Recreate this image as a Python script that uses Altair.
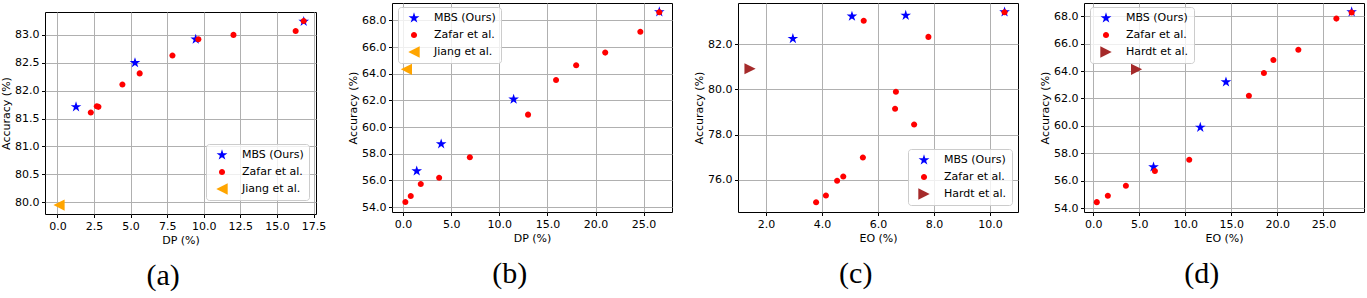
import altair as alt
import pandas as pd

# ---------------- data ----------------
MBS = "MBS (Ours)"
ZAFAR = "Zafar et al."
JIANG = "Jiang et al."
HARDT = "Hardt et al."

# (a) DP vs accuracy
a_mbs_x = [1.27, 5.30, 9.45, 16.83]
a_mbs_y = [81.71, 82.50, 82.92, 83.24]
a_zafar_x = [2.28, 2.69, 2.80, 4.44, 5.62, 7.86, 9.63, 12.03, 16.28, 16.83]
a_zafar_y = [81.61, 81.72, 81.71, 82.11, 82.31, 82.63, 82.92, 83.00, 83.07, 83.25]
a_jiang_x = [0.11]
a_jiang_y = [79.95]

# (b) DP vs accuracy
b_mbs_x = [1.42, 3.96, 11.49, 26.63]
b_mbs_y = [56.70, 58.73, 62.08, 68.63]
b_zafar_x = [0.24, 0.80, 1.84, 3.75, 6.94, 12.99, 15.90, 17.99, 21.01, 24.66, 26.63]
b_zafar_y = [54.38, 54.83, 55.73, 56.20, 57.73, 60.93, 63.53, 64.63, 65.58, 67.15, 68.60]
b_jiang_x = [0.35]
b_jiang_y = [64.33]

# (c) EO vs accuracy
c_mbs_x = [2.96, 5.07, 6.99, 10.52]
c_mbs_y = [82.24, 83.23, 83.27, 83.42]
c_zafar_x = [3.79, 4.14, 4.54, 4.76, 5.46, 6.61, 6.64, 7.29, 7.80, 5.49, 10.52]
c_zafar_y = [75.00, 75.30, 75.95, 76.14, 76.98, 79.14, 79.89, 78.44, 82.32, 83.03, 83.41]
c_hardt_x = [1.43]
c_hardt_y = [80.91]

# (d) EO vs accuracy
d_mbs_x = [6.55, 11.63, 14.42, 28.07]
d_mbs_y = [56.99, 59.89, 63.20, 68.32]
d_zafar_x = [0.39, 1.59, 3.55, 6.70, 10.43, 16.91, 18.54, 19.57, 22.28, 26.41, 28.07]
d_zafar_y = [54.43, 54.89, 55.62, 56.70, 57.53, 62.20, 63.86, 64.81, 65.56, 67.83, 68.27]
d_hardt_x = [4.71]
d_hardt_y = [64.13]

# tick values
a_xticks = [0.0, 2.5, 5.0, 7.5, 10.0, 12.5, 15.0, 17.5]
a_yticks = [80.0, 80.5, 81.0, 81.5, 82.0, 82.5, 83.0]
b_xticks = [0.0, 5.0, 10.0, 15.0, 20.0, 25.0]
b_yticks = [54.0, 56.0, 58.0, 60.0, 62.0, 64.0, 66.0, 68.0]
c_xticks = [2.0, 4.0, 6.0, 8.0, 10.0]
c_yticks = [76.0, 78.0, 80.0, 82.0]
d_xticks = [0.0, 5.0, 10.0, 15.0, 20.0, 25.0]
d_yticks = [54.0, 56.0, 58.0, 60.0, 62.0, 64.0, 66.0, 68.0]

# ---------------- styling ----------------
STAR = ("M0,-1L0.2245,-0.309L0.951,-0.309L0.363,0.118L0.588,0.809L0,0.382"
        "L-0.588,0.809L-0.363,0.118L-0.951,-0.309L-0.2245,-0.309Z")
DOT = "M0.54,0A0.54,0.54 0 1,1 -0.54,0A0.54,0.54 0 1,1 0.54,0Z"
TRI_L = "M-1,0L1,-1L1,1Z"
TRI_R = "M1,0L-1,-1L-1,1Z"
FONT = "DejaVu Sans"


def build_frame(mx, my, zx, zy, bx, by, bname):
    return pd.DataFrame({
        "x": list(mx) + list(zx) + list(bx),
        "y": list(my) + list(zy) + list(by),
        "s": [MBS] * len(mx) + [ZAFAR] * len(zx) + [bname] * len(bx),
    })


def panel(df, bname, bshape, bcolor, xdom, ydom, xticks, yticks, xtitle,
          legx, legy, width, height, caption):
    dom = [MBS, ZAFAR, bname]
    legend = alt.Legend(
        orient="none", legendX=legx, legendY=legy,
        symbolSize=130, symbolStrokeWidth=0, symbolOffset=5,
        labelOffset=14, rowPadding=6, padding=5,
        labelFont=FONT, labelFontSize=11, labelColor="black",
        fillColor="rgba(255,255,255,0.8)", strokeColor="#cccccc",
        cornerRadius=3,
    )
    return alt.Chart(df).mark_point(filled=True, size=125, opacity=1, strokeWidth=0).encode(
        x=alt.X("x:Q", title=xtitle,
                scale=alt.Scale(domain=xdom, nice=False, zero=False),
                axis=alt.Axis(values=xticks, format=".1f", labelFlush=False,
                              labelOverlap=False)),
        y=alt.Y("y:Q", title="Accuracy (%)",
                scale=alt.Scale(domain=ydom, nice=False, zero=False),
                axis=alt.Axis(values=yticks, format=".1f", labelOverlap=False)),
        color=alt.Color("s:N", title=None,
                        scale=alt.Scale(domain=dom, range=["#0000ff", "#ff0000", bcolor]),
                        legend=legend),
        shape=alt.Shape("s:N", title=None,
                        scale=alt.Scale(domain=dom, range=[STAR, DOT, bshape]),
                        legend=legend),
    ).properties(
        width=width, height=height,
        title=alt.TitleParams(caption, orient="bottom", anchor="middle", frame="bounds",
                              font="Liberation Serif", fontSize=30, fontWeight="normal",
                              color="black", offset=16),
    )


df_a = build_frame(a_mbs_x, a_mbs_y, a_zafar_x, a_zafar_y, a_jiang_x, a_jiang_y, JIANG)
df_b = build_frame(b_mbs_x, b_mbs_y, b_zafar_x, b_zafar_y, b_jiang_x, b_jiang_y, JIANG)
df_c = build_frame(c_mbs_x, c_mbs_y, c_zafar_x, c_zafar_y, c_hardt_x, c_hardt_y, HARDT)
df_d = build_frame(d_mbs_x, d_mbs_y, d_zafar_x, d_zafar_y, d_hardt_x, d_hardt_y, HARDT)

pa = panel(df_a, JIANG, TRI_L, "#ffa500", [-0.85, 17.67], [79.79, 83.41],
           a_xticks, a_yticks, "DP (%)", 161, 141, 271, 202, "(a)")
pb = panel(df_b, JIANG, TRI_L, "#ffa500", [-1.15, 27.95], [53.63, 69.30],
           b_xticks, b_yticks, "DP (%)", 6, 4, 280, 209, "(b)")
pc = panel(df_c, HARDT, TRI_R, "#a52a2a", [1.0, 11.0], [74.57, 83.82],
           c_xticks, c_yticks, "EO (%)", 170, 146, 280, 209, "(c)")
pd_ = panel(df_d, HARDT, TRI_R, "#a52a2a", [-1.0, 29.41], [53.71, 68.97],
            d_xticks, d_yticks, "EO (%)", 6, 4, 280, 209, "(d)")

spacer = alt.Chart(pd.DataFrame({"v": [0]})).mark_rule(opacity=0).encode(
    x=alt.value(0), y=alt.value(0), y2=alt.value(1)
).properties(width=271, height=7, view=alt.ViewBackground(stroke="transparent"))

col_a = alt.vconcat(spacer, pa, spacing=0)

chart = alt.hconcat(col_a, pb, pc, pd_, spacing=20).resolve_scale(
    x="independent", y="independent", color="independent", shape="independent"
).resolve_legend(
    color="independent", shape="independent"
).properties(
    padding={"left": 0, "top": 2, "right": 0, "bottom": 0},
    background="white",
).configure_view(
    stroke="black", strokeWidth=1
).configure_axis(
    labelFont=FONT, labelFontSize=11, labelColor="black",
    titleFont=FONT, titleFontSize=11, titleFontWeight="normal", titleColor="black",
    tickColor="black", tickSize=3.5, tickWidth=1,
    labelPadding=2.5, titlePadding=3,
    gridColor="#b0b0b0", gridWidth=1, gridOpacity=1,
    domain=False,
)

chart.save("out.html", embed_options={"renderer": "svg", "actions": False})
